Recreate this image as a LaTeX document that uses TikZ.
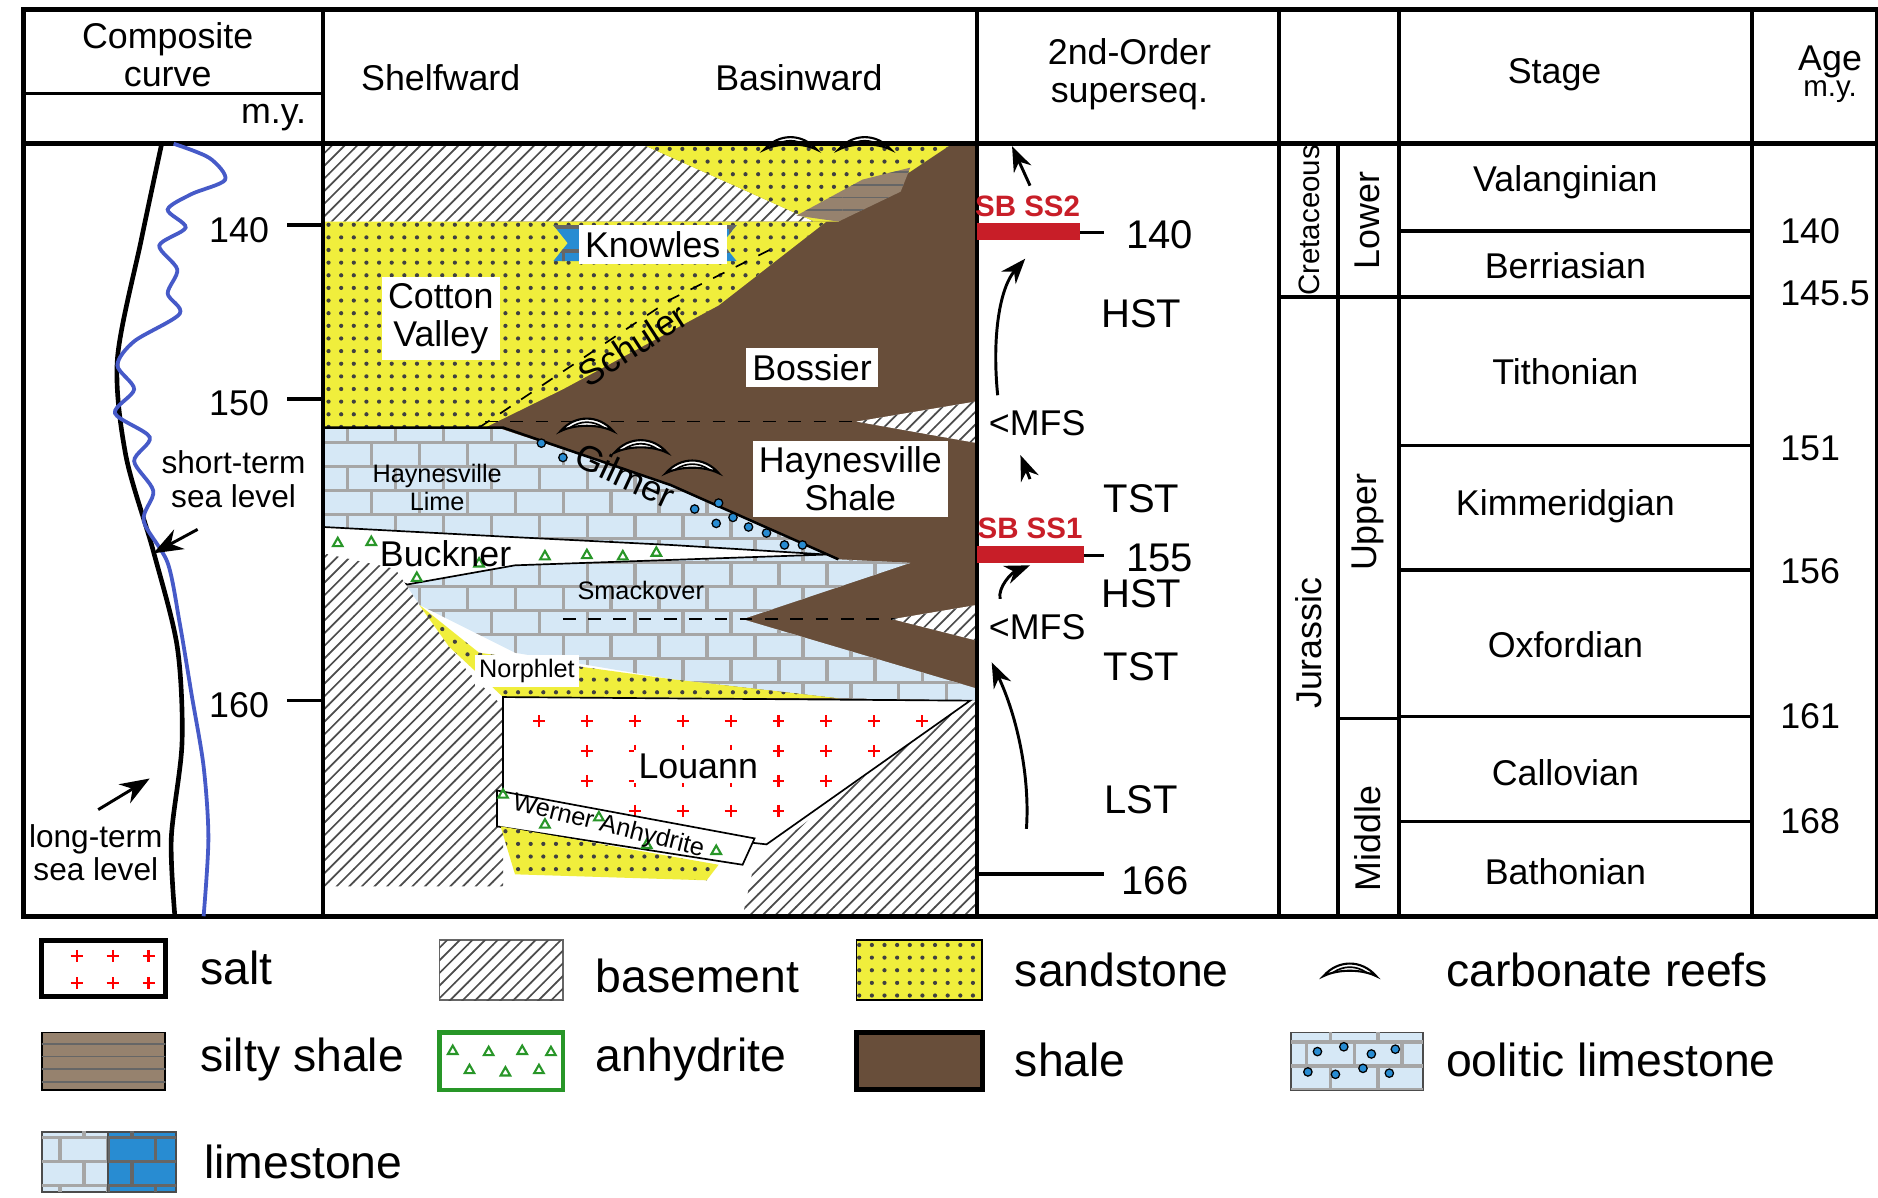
\documentclass[tikz,border=0pt]{standalone}
\usepackage{fontspec}
\setmainfont{Liberation Sans}
\usetikzlibrary{patterns,arrows.meta}
\definecolor{sandc}{RGB}{240,238,60}
\definecolor{shalec}{RGB}{104,78,58}
\definecolor{limec}{RGB}{214,232,246}
\definecolor{limedk}{RGB}{40,140,210}
\definecolor{siltc}{RGB}{150,130,110}
\definecolor{redc}{RGB}{200,30,40}
\definecolor{curvec}{RGB}{70,90,200}
\definecolor{anhc}{RGB}{40,150,40}
\tikzset{
 sand/.style={fill=sandc,postaction={pattern=dots,pattern color=black!75}},
 base/.style={fill=white,postaction={pattern=north east lines,pattern color=black!70}},
 lime/.style={fill=limec,postaction={pattern=bricks,pattern color=black!35}},
 limed/.style={fill=limedk,postaction={pattern=bricks,pattern color=black!60}},
 shale/.style={fill=shalec},
 silt/.style={fill=siltc,postaction={pattern=horizontal lines,pattern color=black!60}},
 lab/.style={font=\fontsize{8.5pt}{9pt}\selectfont,align=center},
 big/.style={font=\fontsize{8.5pt}{9pt}\selectfont,align=center,fill=white,inner sep=1.5pt},
 sml/.style={font=\fontsize{6pt}{6.5pt}\selectfont,align=center},
 leg/.style={font=\fontsize{11pt}{12pt}\selectfont,anchor=west},
 seq/.style={font=\fontsize{9.5pt}{10pt}\selectfont},
 sb/.style={font=\fontsize{7pt}{8pt}\selectfont\bfseries,text=redc},
 reef/.style={draw=black,fill=white,line width=0.5pt},
}
\newcommand{\myreef}[2]{\draw[reef] (#1-22,#2) .. controls (#1-10,#2-14) and (#1+10,#2-14) .. (#1+22,#2) .. controls (#1+10,#2-6) and (#1-10,#2-6) .. cycle; \draw (#1-14,#2-3) .. controls (#1-5,#2-9) and (#1+5,#2-9) .. (#1+14,#2-3);}
\newcommand{\tri}[2]{\draw[anhc,line width=0.5pt] (#1-4,#2+3)--(#1+4,#2+3)--(#1,#2-4)--cycle;}
\newcommand{\pluss}[2]{\draw[red,line width=0.5pt] (#1-5,#2)--(#1+5,#2) (#1,#2-5)--(#1,#2+5);}
\newcommand{\ool}[2]{\fill[limedk,draw=black,line width=0.3pt] (#1,#2) circle (3.5);}
\begin{document}
\begin{tikzpicture}[x=0.01cm,y=-0.01cm]
\useasboundingbox (0,0) rectangle (1568,1000);
% cross-section
\begin{scope}
\clip (270,120) rectangle (816,765);
\fill[white] (270,120) rectangle (816,765);
\fill[shale] (400,120)--(816,120)--(816,585)--(600,585)--(600,470)--(400,470)--cycle;
\path[base] (270,120)--(535,120)--(680,185)--(270,185)--cycle;
\path[sand] (535,120)--(795,120)--(750,150)--(700,185)--(680,185)--cycle;
\path[silt] (665,180)--(720,150)--(760,140)--(752,160)--(700,185)--cycle;
\path[sand] (270,185)--(690,185)--(600,255)--(470,325)--(405,357)--(270,357)--cycle;
\draw[dashed] (400,357)--(560,250)--(650,205);
\path[limed] (462,188)--(615,188)--(603,203)--(615,218)--(462,218)--(474,203)--cycle;
\path[lime] (270,357)--(415,357)--(560,405)--(700,467)--(760,470)--(620,517)--(816,575)--(816,585)--(700,583)--(560,567)--(430,545)--(350,505)--(330,475)--(270,455)--cycle;
\path[fill=white,draw=black,line width=0.4pt] (270,440)--(420,448)--(560,455)--(690,463)--(430,472)--(340,488)--(290,470)--(270,465)--cycle;
\draw[line width=0.6pt] (270,357)--(420,357)--(560,405)--(700,467);
\path[base] (270,462)--(330,475)--(350,505)--(390,560)--(420,590)--(420,740)--(270,740)--cycle;
\path[base] (630,720)--(790,595)--(816,585)--(816,765)--(620,765)--cycle;
\path[sand] (350,505)--(400,545)--(560,567)--(700,583)--(420,582)--(375,540)--cycle;
\path[fill=white,draw=black] (420,582)--(810,585)--(640,705)--(420,680)--cycle;
\foreach \x in {450,490,...,770} \foreach \y in {602,627,652,677} {\pgfmathparse{(\y-585)*0.9+420<\x && \x<(810-(\y-585)*1.4) ? 1 : 0}\ifnum\pgfmathresult=1 \pluss{\x}{\y}\fi}
\path[fill=white,draw=black] (415,660)--(630,700)--(620,722)--(415,690)--cycle;
\path[sand] (418,690)--(600,722)--(590,735)--(430,730)--cycle;
\draw[dashed] (405,352)--(816,352);
\draw[dashed] (470,517)--(760,517);
\path[base] (715,352)--(816,335)--(816,370)--cycle;
\path[base] (745,517)--(816,505)--(816,535)--cycle;
\draw[black,line width=0.6pt] (270,120)--(270,765);
\end{scope}
% anhydrite triangles
\foreach \x/\y in {282/453, 310/452, 348/482, 400/470, 455/464, 490/463, 520/464, 548/461, 420/663, 455/688, 500/682, 540/705, 598/710} {\tri{\x}{\y}}
% oolites
\foreach \x/\y in {452/370, 470/382, 580/425, 600/420, 612/432, 625/440, 640/445, 655/455, 670/455, 598/437} {\ool{\x}{\y}}
\myreef{490}{360}\myreef{535}{378}\myreef{578}{395}\myreef{660}{125}\myreef{722}{125}
% labels in section
\node[big] (kn) at (545,204) {Knowles};
\node[big] (cv) at (368,266) {Cotton\\Valley};
\node[lab,rotate=33] (sc) at (528,288) {Schuler};
\node[big] (bo) at (678,307) {Bossier};
\node[big] (hs) at (710,400) {Haynesville\\Shale};
\node[lab,rotate=-25] (gi) at (522,397) {Gilmer};
\node[sml] (hl) at (365,407) {Haynesville\\Lime};
\node[lab] (bu) at (372,462) {Buckner};
\node[sml] (sm) at (535,493) {Smackover};
\node[sml,fill=white,inner sep=1pt] (no) at (440,560) {Norphlet};
\node[lab,fill=white,inner sep=1pt] (lo) at (583,640) {Louann};
\node[sml,rotate=-14] (wa) at (508,690) {Werner Anhydrite};
% table grid
\draw[line width=1.2pt] (20,8) rectangle (1568,765);
\draw[line width=1.2pt] (20,120)--(1568,120);
\foreach \x in {270,816,1068,1168,1463} \draw[line width=1pt] (\x,8)--(\x,765);
\draw[line width=1pt] (1117,120)--(1117,765);
\draw[line width=0.8pt] (20,78)--(270,78);
\draw[line width=0.8pt] (1068,248)--(1168,248) (1117,600)--(1168,600);
\foreach \y in {193,248,372,476,598,686} \draw[line width=0.8pt] (1168,\y)--(1463,\y);
% headers
\node[lab] (h1) at (140,46) {Composite\\curve};
\node[lab,anchor=east] (h2) at (268,98) {m.y.};
\node[lab] (h3) at (368,65) {Shelfward};
\node[lab] (h4) at (667,65) {Basinward};
\node[lab] (h5) at (943,62) {2nd-Order\\superseq.};
\node[lab] (h6) at (1298,62) {Stage};
\node[lab] (h7) at (1528,62) {Age\\[-3pt]{\fontsize{7pt}{8pt}\selectfont m.y.}};
% periods
\node[lab,rotate=90] (cr) at (1093,184) {\fontsize{7pt}{8pt}\selectfont Cretaceous};
\node[lab,rotate=90] (ju) at (1093,537) {Jurassic};
\node[lab,rotate=90] (lw) at (1142,184) {Lower};
\node[lab,rotate=90] (up) at (1142,436) {Upper};
\node[lab,rotate=90] (md) at (1142,700) {Middle};
\foreach \n/\y in {Valanginian/152,Berriasian/222,Tithonian/310,Kimmeridgian/423,Oxfordian/538,Callovian/645,Bathonian/728} \node[lab] at (1307,\y) {\n};
\foreach \n/\y in {140/193,145.5/245,151/374,156/477,161/598,168/686} \node[lab,anchor=west] at (1474,\y) {\n};
% composite curve
\foreach \y/\n in {188/140,333/150,585/160} {\draw[line width=0.8pt] (240,\y)--(270,\y); \node[lab,anchor=east] at (237,\y+4) {\n};}
\draw[black,line width=1.1pt] plot[smooth] coordinates {(135,120)(118,200)(98,300)(105,380)(128,460)(148,540)(152,620)(143,700)(146,765)};
\draw[curvec,line width=0.9pt] plot[smooth] coordinates {(145,120)(175,132)(188,150)(160,162)(140,175)(155,190)(133,205)(148,225)(140,245)(150,262)(112,285)(98,305)(112,325)(96,345)(125,365)(112,385)(128,410)(120,435)(140,470)(150,520)(160,580)(170,640)(174,700)(170,765)};
\node[lab,font=\fontsize{7.5pt}{8pt}\selectfont] (st) at (195,400) {short-term\\sea level};
\draw[-{Stealth[length=7pt]},line width=0.7pt] (165,442)--(128,462);
\node[lab,font=\fontsize{7.5pt}{8pt}\selectfont] (lt) at (80,712) {long-term\\sea level};
\draw[-{Stealth[length=7pt]},line width=0.7pt] (82,676)--(125,650);
% superseq column
\draw[redc,line width=4pt] (816,193)--(902,193);
\draw[line width=0.8pt] (902,194)--(922,194);
\node[seq,anchor=west] at (928,196) {140};
\node[sb] at (858,172) {SB SS2};
\draw[redc,line width=4pt] (816,463)--(905,463);
\draw[line width=0.8pt] (905,464)--(922,464);
\node[seq,anchor=west] at (928,466) {155};
\node[sb] at (860,441) {SB SS1};
\draw[line width=1pt] (816,730)--(922,730);
\node[seq,anchor=west] at (924,735) {166};
\foreach \t/\x/\y in {HST/953/262,TST/953/416,HST/953/496,TST/953/557,LST/953/668} \node[seq] at (\x,\y) {\t};
\node[lab] at (866,353) {<MFS};
\node[lab] at (866,524) {<MFS};
\draw[-{Stealth[length=6pt]},line width=0.7pt] (860,155)--(845,122);
\draw[-{Stealth[length=6pt]},line width=0.7pt] (833,330) .. controls (828,280) and (835,240) .. (856,216);
\draw[-{Stealth[length=6pt]},line width=0.7pt] (860,400)--(852,380);
\draw[-{Stealth[length=6pt]},line width=0.7pt] (835,500) .. controls (833,490) and (845,478) .. (860,472);
\draw[-{Stealth[length=6pt]},line width=0.7pt] (857,692) .. controls (860,650) and (850,600) .. (828,553);
% legend
\draw[line width=1.2pt,fill=white] (35,785) rectangle (138,832);
\foreach \x in {64,94,124} \foreach \y in {798,821} {\pluss{\x}{\y}}
\node[leg] at (155,808) {salt};
\path[base,draw=black!60] (367,785) rectangle (470,835);
\node[leg] at (485,815) {basement};
\path[sand,draw=black] (715,785) rectangle (820,835);
\node[leg] at (835,810) {sandstone};
\myreef{1127}{815}
\node[leg] at (1195,810) {carbonate reefs};
\path[silt,draw=black] (35,862) rectangle (138,910);
\node[leg] at (155,885) {silty shale};
\draw[anhc,line width=1pt,fill=white] (367,862) rectangle (470,910);
\foreach \x/\y in {378/877, 392/893, 408/878, 422/895, 436/877, 450/893, 460/878} {\tri{\x}{\y}}
\node[leg] at (485,885) {anhydrite};
\draw[line width=1.2pt,shale] (715,862) rectangle (820,910);
\node[leg] at (835,885) {shale};
\path[lime,draw=black!70] (1078,862) rectangle (1188,910);
\foreach \x/\y in {1100/878, 1122/874, 1145/880, 1165/876, 1092/895, 1115/897, 1138/892, 1160/896} {\ool{\x}{\y}}
\node[leg] at (1195,885) {oolitic limestone};
\path[lime,draw=black!70] (35,945) rectangle (90,995);
\path[limed,draw=black!70] (90,945) rectangle (147,995);
\node[leg] at (158,970) {limestone};
\end{tikzpicture}
\end{document}
